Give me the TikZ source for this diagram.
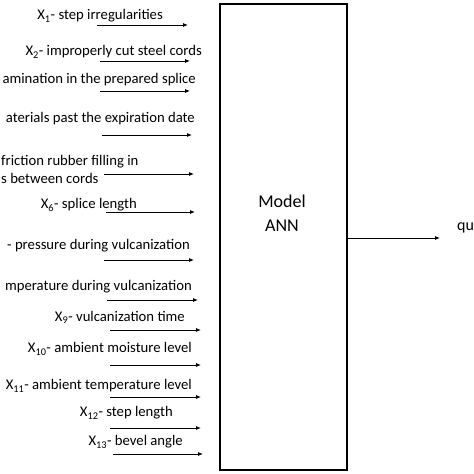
\documentclass[tikz,border=0pt]{standalone}
\usepackage{fontspec}
\setmainfont{Carlito}
\usetikzlibrary{arrows.meta}
\begin{document}
\begin{tikzpicture}[x=1pt,y=-1pt,
  lbl/.style={inner sep=0pt,font=\fontsize{14.7}{18}\selectfont,anchor=east},
  inarrow/.style={line width=0.8pt,-{Latex[length=5pt,width=4pt]}},
  box/.style={draw,line width=1.6pt,minimum width=127pt,minimum height=466pt,inner sep=0pt}]
\useasboundingbox (0,0) rectangle (474,474);
\begin{scope}
\clip (0,0) rectangle (474,474);
% model box
\node[box] (model) at (283.5,237) {};
\node[inner sep=0pt,font=\fontsize{18}{24}\selectfont,align=center] (modeltxt) at (282,213) {Model\\ANN};
% output
\coordinate (out) at (440,238);
\draw[inarrow] (model.east |- out) -- (out);
\node[lbl,anchor=west,font=\fontsize{16}{18}\selectfont] (outtxt) at (457,228) {qu};
% labels
\node[lbl] (t1) at (163,16) {X\textsubscript{1}- step irregularities};
\node[lbl] (t2) at (202,52) {X\textsubscript{2}- improperly cut steel cords};
\node[lbl] (t3) at (196,80) {amination in the prepared splice};
\node[lbl] (t4) at (195,119) {aterials past the expiration date};
\node[lbl,anchor=north west,align=left] (t5) at (1,155) {friction rubber filling in\\s between cords};
\node[lbl] (t6) at (137,205) {X\textsubscript{6}- splice length};
\node[lbl] (t7) at (190,246) {- pressure during vulcanization};
\node[lbl] (t8) at (192,287) {mperature during vulcanization};
\node[lbl] (t9) at (185,317) {X\textsubscript{9}- vulcanization time};
\node[lbl] (t10) at (192,349) {X\textsubscript{10}- ambient moisture level};
\node[lbl] (t11) at (192,386) {X\textsubscript{11}- ambient temperature level};
\node[lbl] (t12) at (173,413) {X\textsubscript{12}- step length};
\node[lbl] (t13) at (183,442) {X\textsubscript{13}- bevel angle};
% arrows
\coordinate (a1s) at (97,25);  \coordinate (a1e) at (188,25);
\coordinate (a2s) at (100,61); \coordinate (a2e) at (190,61);
\coordinate (a3s) at (100,91); \coordinate (a3e) at (190,91);
\coordinate (a4s) at (102,135); \coordinate (a4e) at (192,135);
\coordinate (a5s) at (104,174); \coordinate (a5e) at (194,174);
\coordinate (a6s) at (106,212); \coordinate (a6e) at (195,212);
\coordinate (a7s) at (104,260); \coordinate (a7e) at (194,260);
\coordinate (a8s) at (107,300); \coordinate (a8e) at (198,300);
\coordinate (a9s) at (110,330); \coordinate (a9e) at (201,330);
\coordinate (a10s) at (110,365); \coordinate (a10e) at (201,365);
\coordinate (a11s) at (110,397); \coordinate (a11e) at (201,397);
\coordinate (a12s) at (110,428); \coordinate (a12e) at (201,428);
\coordinate (a13s) at (113,454); \coordinate (a13e) at (203,454);
\foreach \i in {1,...,13} \draw[inarrow] (a\i s) -- (a\i e);
\end{scope}
\end{tikzpicture}
\end{document}
